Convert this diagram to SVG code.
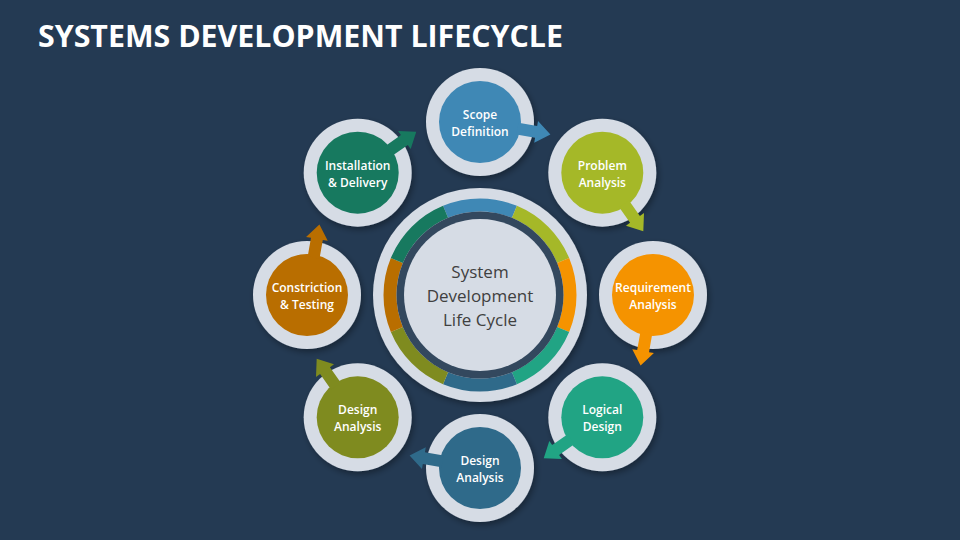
<svg xmlns="http://www.w3.org/2000/svg" width="960" height="540" viewBox="0 0 960 540">
<defs>
<filter id="sh" x="-30%" y="-30%" width="160%" height="160%">
<feDropShadow dx="2" dy="3" stdDeviation="3" flood-color="#000" flood-opacity="0.35"/>
</filter>
<style>
.ring{fill:#D6DCE5;filter:url(#sh)}
.lbl{font-family:"Open Sans","Liberation Sans",sans-serif;font-size:12px;font-weight:600;fill:#fff;text-anchor:middle}
.ctr{font-family:"Open Sans","Liberation Sans",sans-serif;font-size:17px;fill:#404040;text-anchor:middle}
.seg{fill:none;stroke-width:13}
</style>
<path id="arr" d="M38,-6 L57,-6 L57,-11 L71.5,0 L57,11 L57,6 L38,6 Z"/>
</defs>
<rect width="960" height="540" fill="#243A53"/>
<text x="38" y="47" font-family="'Open Sans','Liberation Sans',sans-serif" font-weight="700" font-size="30" fill="#fff" textLength="525" lengthAdjust="spacingAndGlyphs">SYSTEMS DEVELOPMENT LIFECYCLE</text>

<g id="center">
<circle cx="480" cy="295" r="107" class="ring"/>
<path class="seg" stroke="#3F88B5" d="M445.56,211.85 A90,90 0 0 1 514.44,211.85"/>
<path class="seg" stroke="#A5B828" d="M514.44,211.85 A90,90 0 0 1 563.15,260.56"/>
<path class="seg" stroke="#F59300" d="M563.15,260.56 A90,90 0 0 1 563.15,329.44"/>
<path class="seg" stroke="#21A484" d="M563.15,329.44 A90,90 0 0 1 514.44,378.15"/>
<path class="seg" stroke="#2F6A8A" d="M514.44,378.15 A90,90 0 0 1 445.56,378.15"/>
<path class="seg" stroke="#7F8B1F" d="M445.56,378.15 A90,90 0 0 1 396.85,329.44"/>
<path class="seg" stroke="#B96E00" d="M396.85,329.44 A90,90 0 0 1 396.85,260.56"/>
<path class="seg" stroke="#17795F" d="M396.85,260.56 A90,90 0 0 1 445.56,211.85"/>
<circle cx="480" cy="295" r="83.5" fill="#33485E"/>
<circle cx="480" cy="295" r="76" fill="#D6DCE5"/>
<text class="ctr" x="480" y="278">System</text>
<text class="ctr" x="480" y="302">Development</text>
<text class="ctr" x="480" y="326">Life Cycle</text>
</g>

<g id="scope">
<circle cx="480" cy="122" r="54" class="ring"/>
<circle cx="480" cy="122" r="41" fill="#3F88B5"/>
<text class="lbl" x="480" y="119">Scope</text>
<text class="lbl" x="480" y="136">Definition</text>
</g>
<g id="problem">
<circle cx="602.3" cy="172.7" r="54" class="ring"/>
<circle cx="602.3" cy="172.7" r="41" fill="#A5B828"/>
<text class="lbl" x="602.3" y="169.7">Problem</text>
<text class="lbl" x="602.3" y="186.7">Analysis</text>
</g>
<g id="requirement">
<circle cx="653" cy="295" r="54" class="ring"/>
<circle cx="653" cy="295" r="41" fill="#F59300"/>
<text class="lbl" x="653" y="292">Requirement</text>
<text class="lbl" x="653" y="309">Analysis</text>
</g>
<g id="logical">
<circle cx="602.3" cy="417.3" r="54" class="ring"/>
<circle cx="602.3" cy="417.3" r="41" fill="#21A484"/>
<text class="lbl" x="602.3" y="414.3">Logical</text>
<text class="lbl" x="602.3" y="431.3">Design</text>
</g>
<g id="design-bottom">
<circle cx="480" cy="468" r="54" class="ring"/>
<circle cx="480" cy="468" r="41" fill="#2F6A8A"/>
<text class="lbl" x="480" y="465">Design</text>
<text class="lbl" x="480" y="482">Analysis</text>
</g>
<g id="design-left">
<circle cx="357.7" cy="417.3" r="54" class="ring"/>
<circle cx="357.7" cy="417.3" r="41" fill="#7F8B1F"/>
<text class="lbl" x="357.7" y="414.3">Design</text>
<text class="lbl" x="357.7" y="431.3">Analysis</text>
</g>
<g id="constriction">
<circle cx="307" cy="295" r="54" class="ring"/>
<circle cx="307" cy="295" r="41" fill="#B96E00"/>
<text class="lbl" x="307" y="292">Constriction</text>
<text class="lbl" x="307" y="309">&amp; Testing</text>
</g>
<g id="installation">
<circle cx="357.7" cy="172.7" r="54" class="ring"/>
<circle cx="357.7" cy="172.7" r="41" fill="#17795F"/>
<text class="lbl" x="357.7" y="169.7">Installation</text>
<text class="lbl" x="357.7" y="186.7">&amp; Delivery</text>
</g>

<g id="connectors">
<use href="#arr" fill="#3F88B5" transform="translate(480,122) rotate(10)"/>
<use href="#arr" fill="#A5B828" transform="translate(602.3,172.7) rotate(55)"/>
<use href="#arr" fill="#F59300" transform="translate(653,295) rotate(100)"/>
<use href="#arr" fill="#21A484" transform="translate(602.3,417.3) rotate(145)"/>
<use href="#arr" fill="#2F6A8A" transform="translate(480,468) rotate(190)"/>
<use href="#arr" fill="#7F8B1F" transform="translate(357.7,417.3) rotate(235)"/>
<use href="#arr" fill="#B96E00" transform="translate(307,295) rotate(280)"/>
<use href="#arr" fill="#17795F" transform="translate(357.7,172.7) rotate(325)"/>
</g>
</svg>
